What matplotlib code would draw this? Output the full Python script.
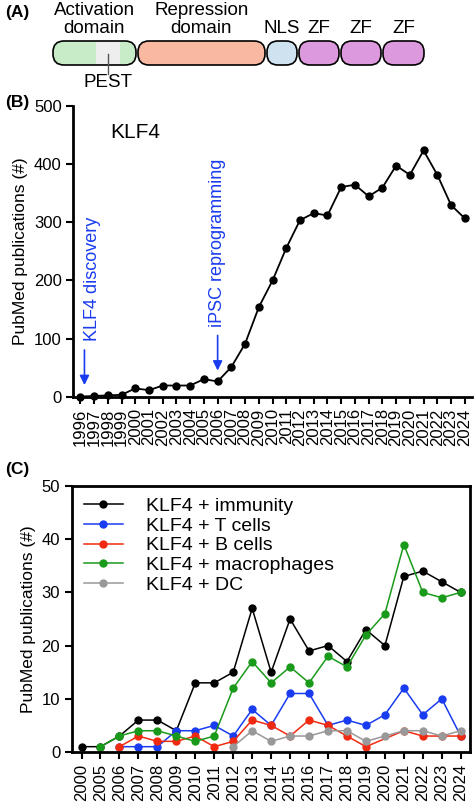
import numpy as np
import matplotlib.pyplot as plt
from matplotlib.patches import FancyBboxPatch

years_b = list(range(1996, 2025))
klf4_pubs = [0, 1, 2, 3, 14, 11, 19, 19, 19, 30, 26, 51, 91, 154, 200, 256, 304, 316, 312,
             361, 365, 345, 360, 398, 382, 424, 382, 330, 307]

years_c = ["2000"] + [str(y) for y in range(2005, 2025)]
nan = np.nan
immunity = [1, 1, 3, 6, 6, 4, 13, 13, 15, 27, 15, 25, 19, 20, 17, 23, 20, 33, 34, 32, 30]
t_cells = [nan, nan, 1, 1, 1, 4, 4, 5, 3, 8, 5, 11, 11, 5, 6, 5, 7, 12, 7, 10, 3]
b_cells = [nan, nan, 1, 3, 2, 2, 3, 1, 2, 6, 5, 3, 6, 5, 3, 1, nan, 4, 3, 3, 3]
macrophages = [nan, 1, 3, 4, 4, 3, 2, 3, 12, 17, 13, 16, 13, 18, 16, 22, 26, 39, 30, 29, 30]
dc = [nan, nan, nan, nan, nan, nan, nan, nan, 1, 4, 2, 3, 3, 4, 4, 2, 3, 4, 4, 3, 4]

series = [("KLF4 + immunity", immunity, "black"),
          ("KLF4 + T cells", t_cells, "#1a3cf0"),
          ("KLF4 + B cells", b_cells, "#f02a10"),
          ("KLF4 + macrophages", macrophages, "#1a9a1a"),
          ("KLF4 + DC", dc, "#999999")]

# domain name, start, end (pixel units along the protein bar)
domains = [("Activation\ndomain", 52, 137, "#c8ecc8"), ("Repression\ndomain", 137, 266, "#f9b8a0"),
           ("NLS", 266, 298, "#cfe2f0"), ("ZF", 298, 340, "#dd99dd"),
           ("ZF", 340, 382, "#dd99dd"), ("ZF", 382, 425, "#dd99dd")]

plt.rcParams['font.family'] = ['Liberation Sans', 'DejaVu Sans']
fig = plt.figure(figsize=(4.74, 8.06), dpi=100)

# panel A (axes in pixel units, y downwards)
axa = fig.add_axes([0.0, 1 - 100 / 806, 1.0, 100 / 806])
axa.set_xlim(0, 474)
axa.set_ylim(100, 0)
axa.axis('off')
for name, x0, x1, col in domains:
    axa.add_patch(FancyBboxPatch((x0 + 1, 41), x1 - x0 - 2, 24,
                                 boxstyle="round,pad=0,rounding_size=11",
                                 fc=col, ec="black", lw=1.2))
    axa.text((x0 + x1) / 2, 37, name, ha='center', va='bottom', fontsize=13.5, linespacing=1.05)
axa.add_patch(plt.Rectangle((96, 42), 24, 22, fc="#eeeeee", ec="none"))
axa.plot([108, 108], [54, 74], color="#555555", lw=1)
axa.text(108, 74, "PEST", ha='center', va='top', fontsize=13.5)
fig.text(0.01, 1 - 13 / 806, "(A)", fontsize=12.5, fontweight='bold', va='center')

# panel B
axb = fig.add_axes([0.155, 0.508, 0.84, 0.36])
axb.plot(years_b, klf4_pubs, 'o-', color='black', ms=5, lw=1.3, clip_on=False)
axb.set_xlim(1995.5, 2024.5)
axb.set_ylim(0, 500)
axb.set_xticks(years_b)
axb.set_xticklabels([str(y) for y in years_b], rotation=90, fontsize=9.5)
axb.set_yticks(range(0, 501, 100))
axb.tick_params(labelsize=12, width=1.5, length=5)
axb.set_ylabel("PubMed publications (#)", fontsize=12.5)
for s in ['top', 'right']:
    axb.spines[s].set_visible(False)
for s in ['left', 'bottom']:
    axb.spines[s].set_linewidth(2)
axb.text(2000.0, 455, "KLF4", fontsize=15, ha='center', va='center')
axb.annotate("", xy=(1996.3, 15), xytext=(1996.3, 85),
             arrowprops=dict(arrowstyle="-|>", color="#1a3cf0", lw=1.2, mutation_scale=14))
axb.text(1996.9, 95, "KLF4 discovery", rotation=90, color="#1a3cf0", fontsize=13, ha='center', va='bottom')
axb.annotate("", xy=(2006.0, 40), xytext=(2006.0, 110),
             arrowprops=dict(arrowstyle="-|>", color="#1a3cf0", lw=1.2, mutation_scale=14))
axb.text(2006.0, 120, "iPSC reprogramming", rotation=90, color="#1a3cf0", fontsize=13, ha='center', va='bottom')
fig.text(0.01, 1 - 103 / 806, "(B)", fontsize=12.5, fontweight='bold', va='center')

# panel C
axc = fig.add_axes([0.152, 0.067, 0.84, 0.33])
xc = np.arange(len(years_c))
for label, vals, col in series:
    v = np.array(vals, dtype=float)
    m = ~np.isnan(v)
    axc.plot(xc[m], v[m], 'o-', color=col, ms=5, lw=1.1, label=label, clip_on=False)
axc.set_xlim(-0.5, len(years_c) - 0.5)
axc.set_ylim(0, 50)
axc.set_xticks(xc)
axc.set_xticklabels(years_c, rotation=90, fontsize=10.5)
axc.set_yticks(range(0, 51, 10))
axc.tick_params(labelsize=12, width=1.5, length=5)
axc.set_ylabel("PubMed publications (#)", fontsize=12.5)
for s in axc.spines.values():
    s.set_linewidth(2)
axc.legend(loc='upper left', frameon=False, fontsize=14, handlelength=2.0,
           borderaxespad=0.2, labelspacing=0.1, handletextpad=1.2)
fig.text(0.01, 1 - 470 / 806, "(C)", fontsize=12.5, fontweight='bold', va='center')

fig.savefig("out.png", dpi=100)
